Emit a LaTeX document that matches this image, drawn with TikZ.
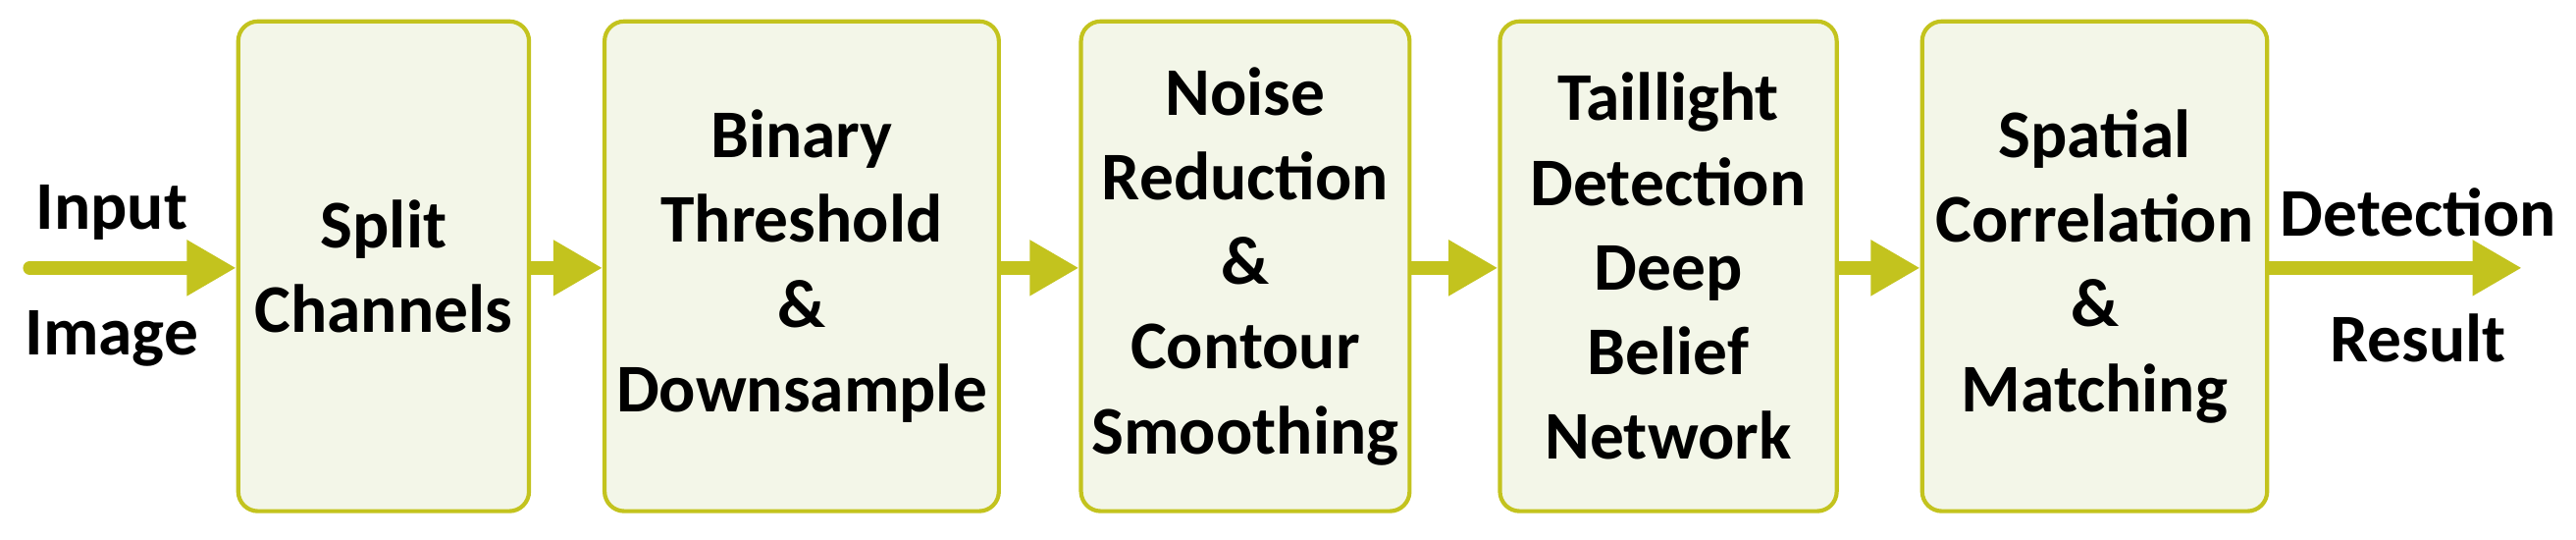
\documentclass[tikz,border=0pt]{standalone}
\usepackage{fontspec}
\setmainfont{Carlito}
\usetikzlibrary{arrows.meta}
\definecolor{bord}{HTML}{C3C31E}
\definecolor{boxfill}{HTML}{F3F6E8}
\tikzset{x=1pt,y=1pt,
 stage/.style={draw=bord,line width=2.5pt,fill=boxfill,rounded corners=12pt,align=center,font=\fontsize{41.5}{51.5}\selectfont\bfseries,inner sep=0pt},
 flow/.style={draw=bord,line width=8pt,-{Triangle[length=30pt,width=32pt]}},
 lbl/.style={font=\fontsize{41.5}{51.5}\selectfont\bfseries,align=center}}
\begin{document}
\begin{tikzpicture}
\useasboundingbox (0,0) rectangle (1568,328);
\node[stage,minimum width=177pt,minimum height=298pt] (b1) at (233.5,166) {Split\\Channels};
\node[stage,minimum width=240pt,minimum height=298pt] (b2) at (488,166) {Binary\\Threshold\\\&\\Downsample};
\node[stage,minimum width=200pt,minimum height=298pt] (b3) at (758,166) {Noise\\Reduction\\\&\\Contour\\Smoothing};
\node[stage,minimum width=205pt,minimum height=298pt] (b4) at (1015.5,166) {Taillight\\Detection\\Deep\\Belief\\Network};
\node[stage,minimum width=210pt,minimum height=298pt] (b5) at (1275,166) {Spatial\\Correlation\\\&\\Matching};
\coordinate (in) at (18,165);
\coordinate (out) at (1535,165);
\node[lbl] (t1) at (68,199) {Input};
\node[lbl] (t2) at (68,122) {Image};
\node[lbl] (t3) at (1472,199) {Detection};
\node[lbl] (t4) at (1472,122) {Result};
\draw[flow,line cap=round] (in) -- (b1.west|-in);
\draw[flow] (b1.east|-in) -- (b2.west|-in);
\draw[flow] (b2.east|-in) -- (b3.west|-in);
\draw[flow] (b3.east|-in) -- (b4.west|-in);
\draw[flow] (b4.east|-in) -- (b5.west|-in);
\draw[flow] (b5.east|-in) -- (out);
\end{tikzpicture}
\end{document}
